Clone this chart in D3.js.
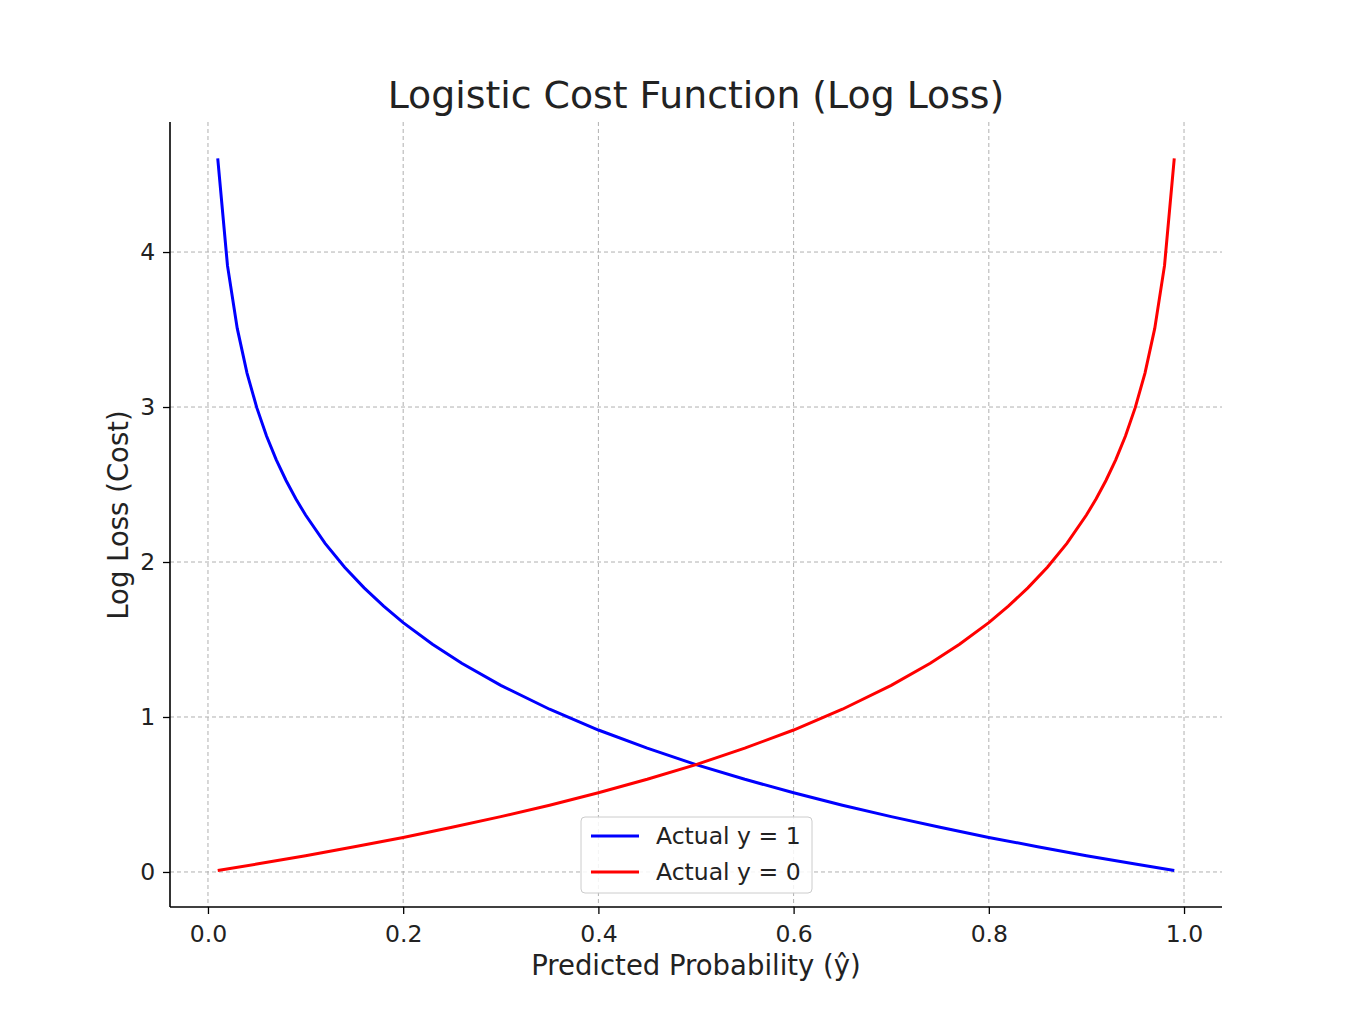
<!DOCTYPE html>
<html><head><meta charset="utf-8">
<script src="https://cdn.jsdelivr.net/npm/d3@7"></script>
<style>body{margin:0;background:#fff}text{font-family:"DejaVu Sans",sans-serif;fill:#222}</style>
</head><body><svg id="c" width="1358" height="1019"></svg>
<script>
const probY1 = [0.01,0.02,0.03,0.04,0.05,0.06,0.07,0.08,0.09,0.10,0.12,0.14,0.16,0.18,0.20,0.23,0.26,0.30,0.35,0.40,0.45,0.50,0.55,0.60,0.65,0.70,0.75,0.80,0.85,0.90,0.95,0.99];
const lossY1 = [4.605,3.912,3.507,3.219,2.996,2.813,2.659,2.526,2.408,2.303,2.120,1.966,1.833,1.715,1.609,1.470,1.347,1.204,1.050,0.916,0.799,0.693,0.598,0.511,0.431,0.357,0.288,0.223,0.163,0.105,0.051,0.010];
const probY0 = [0.01,0.05,0.10,0.15,0.20,0.25,0.30,0.35,0.40,0.45,0.50,0.55,0.60,0.65,0.70,0.74,0.77,0.80,0.82,0.84,0.86,0.88,0.90,0.91,0.92,0.93,0.94,0.95,0.96,0.97,0.98,0.99];
const lossY0 = [0.010,0.051,0.105,0.163,0.223,0.288,0.357,0.431,0.511,0.598,0.693,0.799,0.916,1.050,1.204,1.347,1.470,1.609,1.715,1.833,1.966,2.120,2.303,2.408,2.526,2.659,2.813,2.996,3.219,3.507,3.912,4.605];
const xTicks = [0,0.2,0.4,0.6,0.8,1.0];
const yTicks = [0,1,2,3,4];
const seriesNames = ["Actual y = 1","Actual y = 0"];
const colors = ["#0000ff","#ff0000"];

const svg = d3.select("#c");
const L=170,R=1222,T=122,B=907;
const x = d3.scaleLinear().domain([-0.0389,1.0389]).range([L,R]);
const y = d3.scaleLinear().domain([-0.226,4.839]).range([B,T]);

const g = svg.append("g");
g.selectAll(".gx").data(xTicks).enter().append("line")
 .attr("x1",d=>x(d)).attr("x2",d=>x(d)).attr("y1",T).attr("y2",B)
 .attr("stroke","#b0b0b0").attr("stroke-dasharray","4,3").attr("stroke-width",1);
g.selectAll(".gy").data(yTicks).enter().append("line")
 .attr("y1",d=>y(d)).attr("y2",d=>y(d)).attr("x1",L).attr("x2",R)
 .attr("stroke","#b0b0b0").attr("stroke-dasharray","4,3").attr("stroke-width",1);

const xa = svg.append("g").attr("transform",`translate(0,${B})`)
 .call(d3.axisBottom(x).tickValues(xTicks).tickFormat(d3.format(".1f")).tickSizeOuter(0).tickSize(7));
const ya = svg.append("g").attr("transform",`translate(${L},0)`)
 .call(d3.axisLeft(y).tickValues(yTicks).tickFormat(d3.format("d")).tickSizeOuter(0).tickSize(7));
[xa,ya].forEach(a=>{a.select(".domain").attr("stroke","#000").attr("stroke-width",1.6).attr("d",null);
 a.selectAll(".tick line").attr("stroke","#000").attr("stroke-width",1.3);
 a.selectAll(".tick text").style("font-size","23.5px").attr("fill","#222");});
xa.select(".domain").attr("d",`M${L},0H${R}`);
ya.select(".domain").attr("d",`M0,${T}V${B}`);
xa.selectAll(".tick text").attr("dy","1.05em");
ya.selectAll(".tick text").attr("dx","-0.2em");

const line = d3.line().x(d=>x(d[0])).y(d=>y(d[1]));
svg.append("path").datum(probY1.map((p,i)=>[p,lossY1[i]])).attr("d",line)
 .attr("fill","none").attr("stroke",colors[0]).attr("stroke-width",3);
svg.append("path").datum(probY0.map((p,i)=>[p,lossY0[i]])).attr("d",line)
 .attr("fill","none").attr("stroke",colors[1]).attr("stroke-width",3);

svg.append("text").attr("x",696).attr("y",108).attr("text-anchor","middle").style("font-size","37.8px").text("Logistic Cost Function (Log Loss)");
svg.append("text").attr("x",696).attr("y",975).attr("text-anchor","middle").style("font-size","27.5px").text("Predicted Probability (ŷ)");
svg.append("text").attr("transform","translate(128,515) rotate(-90)").attr("text-anchor","middle").style("font-size","27.5px").text("Log Loss (Cost)");

const lg = svg.append("g").attr("transform","translate(581,817)");
lg.append("rect").attr("width",231).attr("height",76).attr("rx",4).attr("fill","#fff").attr("fill-opacity",0.85).attr("stroke","#ccc");
seriesNames.forEach((n,i)=>{
 lg.append("line").attr("x1",10).attr("x2",58).attr("y1",19+i*36).attr("y2",19+i*36).attr("stroke",colors[i]).attr("stroke-width",3);
 lg.append("text").attr("x",75).attr("y",27+i*36).style("font-size","23.5px").text(n);
});
</script></body></html>
